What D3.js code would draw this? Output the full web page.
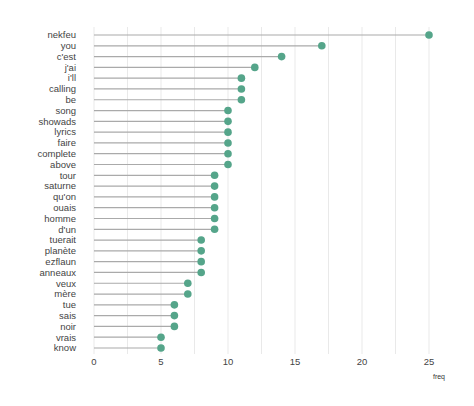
<!DOCTYPE html><html><head><meta charset="utf-8"><script src="https://cdn.jsdelivr.net/npm/d3@7"></script>
<style>body{margin:0;background:#fff}</style></head><body><svg id="c" width="474" height="406"></svg><script>
const categories=["nekfeu","you","c'est","j'ai","i'll","calling","be","song","showads","lyrics","faire","complete","above","tour","saturne","qu'on","ouais","homme","d'un","tuerait","planète","ezflaun","anneaux","veux","mère","tue","sais","noir","vrais","know"];
const freq=[25,17,14,12,11,11,11,10,10,10,10,10,10,9,9,9,9,9,9,8,8,8,8,7,7,6,6,6,5,5];
const xTicks=[0,5,10,15,20,25];
const svg=d3.select("#c");
const x=d3.scaleLinear().domain([0,25]).range([94,429]);
const y=d3.scalePoint().domain(categories).range([35,348]);
const g=svg.append("g");
g.selectAll(".grid").data(d3.range(0,26.1,2.5)).join("line")
 .attr("x1",d=>x(d)).attr("x2",d=>x(d)).attr("y1",27).attr("y2",354)
 .attr("stroke","#e3e3e3").attr("stroke-width",0.8);
g.selectAll(".seg").data(categories).join("line")
 .attr("x1",x(0)).attr("x2",(d,i)=>x(freq[i])).attr("y1",d=>y(d)).attr("y2",d=>y(d))
 .attr("stroke","#aaa").attr("stroke-width",1.2);
g.selectAll("circle").data(categories).join("circle")
 .attr("cx",(d,i)=>x(freq[i])).attr("cy",d=>y(d)).attr("r",3.8).attr("fill","#55a58a");
g.selectAll(".yl").data(categories).join("text")
 .attr("x",76).attr("y",d=>y(d)).attr("dy","0.35em").attr("text-anchor","end")
 .attr("font-family","Liberation Sans, Arial").attr("font-size",9.5).attr("fill","#444").text(d=>d);
g.selectAll(".xl").data(xTicks).join("text")
 .attr("x",d=>x(d)).attr("y",365).attr("text-anchor","middle")
 .attr("font-family","Liberation Sans, Arial").attr("font-size",9.5).attr("fill","#444").text(d=>d);
svg.append("text").attr("x",445).attr("y",379).attr("text-anchor","end")
 .attr("font-family","Liberation Sans, Arial").attr("font-size",7).attr("fill","#333").text("freq");
</script></body></html>
